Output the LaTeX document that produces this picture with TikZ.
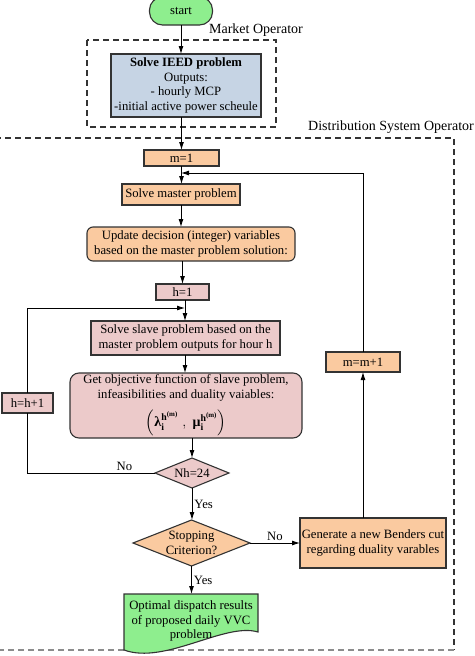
\documentclass[tikz,border=0pt]{standalone}
\usepackage{fontspec}
\setmainfont{Liberation Serif}
\usepackage{amsmath}
\usetikzlibrary{calc,positioning,shapes,arrows.meta}

\definecolor{startgreen}{RGB}{142,238,142}
\definecolor{ieedblue}{RGB}{198,212,228}
\definecolor{peach}{RGB}{250,202,160}
\definecolor{rose}{RGB}{236,202,202}
\newcommand{\flowfont}{\fontsize{12.7}{14.5}\selectfont}
\newcommand{\framefont}{\fontsize{14}{16}\selectfont}
\newcommand{\dualfont}{\fontsize{14}{16}\selectfont}
\newcommand{\bt}[1]{\text{\textbf{#1}}}

\begin{document}
\begin{tikzpicture}[
  x=1pt, y=-1pt,
  thick,
  terminal/.style={
    rectangle,
    rounded corners=13pt,
    fill=startgreen,
    line width=1.1pt,
    draw=black!80,
    minimum height=28pt, minimum width=63pt,
    outer sep=0pt,
    font=\flowfont
  },
  ieed box/.style={
    rectangle,
    fill=ieedblue,
    line width=1.1pt,
    draw=black!80,
    minimum height=63pt, minimum width=150pt,
    inner sep=0pt, outer sep=0pt,
    align=center,
    font=\flowfont
  },
  peach step/.style={
    rectangle,
    fill=peach,
    line width=1.1pt,
    draw=black!80,
    inner sep=0pt, outer sep=0pt,
    align=center,
    font=\flowfont
  },
  pink step/.style={
    rectangle,
    fill=rose,
    line width=1.1pt,
    draw=black!80,
    inner sep=0pt, outer sep=0pt,
    align=center,
    font=\flowfont
  },
  peach check/.style={
    diamond,
    aspect=2.5,
    fill=peach,
    line width=1.1pt,
    draw=black!80,
    inner sep=0pt, outer sep=0pt,
    align=center,
    font=\flowfont
  },
  pink check/.style={
    diamond,
    aspect=2.5,
    fill=rose,
    line width=1.1pt,
    draw=black!80,
    inner sep=0pt, outer sep=0pt,
    align=center,
    font=\flowfont
  },
  output/.style={
    rectangle,
    minimum height=40pt, minimum width=134pt,
    inner sep=0pt, outer sep=0pt,
    align=center,
    font=\flowfont
  },
  frame/.style={
    dashed,
    dash pattern=on 6pt off 4pt,
    line width=1.1pt,
    draw=black!80
  },
  frame label/.style={
    font=\framefont
  },
  answer/.style={
    font=\flowfont,
    inner sep=2pt
  },
  flow/.style={
    -{Latex[length=8pt,width=5pt]},
    line width=0.9pt
  }
  ]
\useasboundingbox (0,0) rectangle (474,656);
% Operators
\draw[frame] (87,40) rectangle (276,127);
\node[frame label] (market label) at (256,30) {Market Operator};
\draw[frame] (-5,138) -- (454,138) -- (454,650);
\draw[frame, draw=black!45, line width=1.6pt] (454,650) -- (-5,650);
\node[frame label] (dso label) at (391,127) {Distribution System Operator};
% Market Operator
\node[terminal] (start) at (181,11) {start};
\node[ieed box] (ieed) at (186,85.5) {\textbf{Solve IEED problem}\\Outputs:\\- hourly MCP\\-initial active power scheule};
% Master loop
\node[peach step, minimum width=75pt, minimum height=16pt] (m one) at (181.5,158) {m=1};
\node[peach step, minimum width=118pt, minimum height=21pt] (master) at (181,194.5) {Solve master problem};
\node[peach step, rounded corners=6pt, minimum width=208pt, minimum height=34pt] (update) at (191,244) {Update decision (integer) variables\\based on the master problem solution:};
% Slave loop
\node[pink step, minimum width=53pt, minimum height=16pt] (h one) at (182.5,292) {h=1};
\node[pink step, minimum width=189pt, minimum height=34pt] (slave) at (185.5,338) {Solve slave problem based on the\\master problem outputs for hour h};
\node[pink step, rounded corners=9pt, minimum width=232pt, minimum height=65pt] (objective) at (186,405.5) {Get objective function of slave problem,\\infeasibilities and duality vaiables:\\[8pt]{\dualfont$\left(\bt{λ}_{\bt{i}}^{\bt{h}^{\bt{(m)}}}\;,\;\bt{μ}_{\bt{i}}^{\bt{h}^{\bt{(m)}}}\right)$}};
\node[pink step, minimum width=51pt, minimum height=20pt] (h next) at (27.5,403) {h=h+1};
\node[pink check, minimum width=74pt, minimum height=30pt] (nh) at (192,473) {Nh=24};
% Stopping
\node[peach check, minimum width=117pt, minimum height=46pt] (stop) at (191.5,543) {Stopping\\Criterion?};
\node[peach step, minimum width=146pt, minimum height=50pt] (benders) at (373,543) {Generate a new Benders cut\\regarding duality varables};
\node[peach step, minimum width=74pt, minimum height=20pt] (m next) at (363,362) {m=m+1};
\node[output] (result) at (191,614) {};
\draw[fill=startgreen, line width=1.1pt, draw=black!80]
  (result.north west) -- (result.north east) -- ($(result.south east)+(0,-2)$)
  .. controls +(-33,-10) and +(41,15) .. ($(result.south west)+(0,16)$) -- cycle;
\node[output] (result text) at ($(result)+(0,7)$) {Optimal dispatch results\\of proposed daily VVC\\problem};
% Joins
\coordinate (m join) at (181,173);
\coordinate (h join) at (185,308);
% Connectors
\draw[flow] (start.south) -- (start.south |- ieed.north);
\draw[flow] (ieed.south -| m one) -- (m one.north);
\draw[flow] (m one.south) -- (m one.south |- master.north);
\draw[flow] (master.south) -- (master.south |- update.north);
\draw[flow] (update.south -| h one) -- (h one.north);
\draw[flow] (h one.south -| h join) -- (h join |- slave.north);
\draw[flow] (slave.south -| h join) -- (h join |- objective.north);
\draw[flow] (objective.south -| nh) -- (nh.north);
\draw (nh.west) -| node[answer, above, pos=0.12] (nh no) {No} (h next.south);
\draw[flow] (h next.north) |- (h join);
\draw[flow] (nh.south) -- node[answer, right] (nh yes) {Yes} (nh.south |- stop.north);
\draw[flow] (stop.east) -- node[answer, above] (stop no) {No} (benders.west);
\draw[flow] (benders.north -| m next) -- (m next.south);
\draw[flow] (m next.north) |- (m join);
\draw[flow] (stop.south) -- node[answer, right] (stop yes) {Yes} (stop.south |- result.north);
\end{tikzpicture}
\end{document}
